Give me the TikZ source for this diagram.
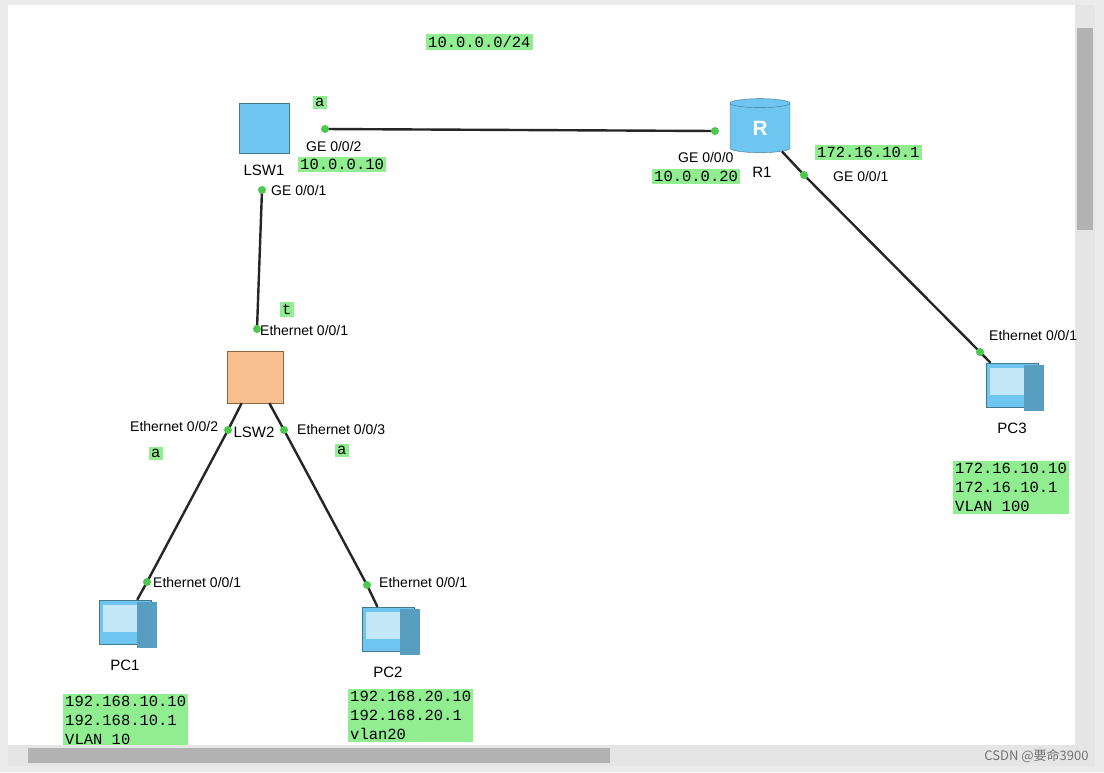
\documentclass[tikz,border=0pt]{standalone}
\usepackage{fontspec}
\setmainfont{Liberation Sans}
\newfontfamily\monof{Liberation Mono}
\newfontfamily\cjkf{Noto Sans CJK SC}
\usetikzlibrary{shapes.geometric}
\definecolor{lblgreen}{HTML}{90EE90}
\definecolor{devblue}{HTML}{6EC6F0}
\definecolor{devorange}{HTML}{F4A460}
\tikzset{
  lbl/.style={fill=lblgreen, font=\monof\fontsize{15.5}{19}\selectfont, inner sep=2pt, align=left, anchor=north west},
  port/.style={font=\fontsize{14}{16}\selectfont, inner sep=1pt},
  dev/.style={font=\fontsize{15}{17}\selectfont, inner sep=1pt},
  pdot/.style={circle, fill=green!70!black!70, inner sep=0pt, minimum size=8pt},
  link/.style={line width=2.4pt, black!85},
  pcbox/.style={draw=devblue!60!black, fill=devblue, minimum width=52pt, minimum height=44pt, inner sep=0pt}
}
\begin{document}
\begin{tikzpicture}[x=1pt, y=-1pt]
  \useasboundingbox (0,0) rectangle (1104,772);
  % window
  \fill[black!8] (0,0) rectangle (1104,772);
  \fill[white] (8,5) rectangle (1075,745);
  \fill[black!10] (1075,5) rectangle (1095,745);
  \fill[black!30] (1077,28) rectangle (1093,230);

  % devices
  \node[draw=devblue!60!black, fill=devblue, minimum width=50pt, minimum height=50pt, inner sep=0pt] (lsw1) at (264,128) {};
  \node[dev] (lsw1t) at (264,170) {LSW1};
  \node[cylinder, shape border rotate=90, draw=devblue!60!black, fill=devblue, minimum width=60pt, minimum height=54pt, aspect=0.6, font=\bfseries\huge, text=white, inner sep=0pt] (r1) at (760,128) {R};
  \node[dev] (r1t) at (762,172) {R1};
  \node[draw=devorange!60!black, fill=devorange!70, minimum width=56pt, minimum height=52pt, inner sep=0pt] (lsw2) at (255,377) {};
  \node[dev] (lsw2t) at (254,432) {LSW2};
  \foreach \n/\x/\y in {pc1/125/622, pc2/388/629, pc3/1012/385} {
    \node[pcbox] (\n) at (\x,\y) {};
    \fill[devblue!40] (\x-22,\y-17) rectangle (\x+12,\y+10);
    \fill[devblue!80!black] (\x+12,\y-20) rectangle (\x+32,\y+26);
  }
  \node[dev] (pc1t) at (125,665) {PC1};
  \node[dev] (pc2t) at (388,672) {PC2};
  \node[dev] (pc3t) at (1012,428) {PC3};

  % ports
  \coordinate (p12) at (325,129);
  \coordinate (p10) at (715,131);
  \coordinate (p11) at (262,190);
  \coordinate (p21) at (257,329);
  \coordinate (pr1) at (804,175);
  \coordinate (pc3p) at (980,352);
  \coordinate (p22) at (228,430);
  \coordinate (p23) at (284,430);
  \coordinate (pc1p) at (147,582);
  \coordinate (pc2p) at (367,585);

  % links
  \draw[link] (p12) -- (p10);
  \draw[link] (p11) -- (p21);
  \draw[link] (pr1) -- (pc3p);
  \draw[link] (p22) -- (pc1p);
  \draw[link] (p23) -- (pc2p);
  \draw[link] (lsw2) -- (p22);
  \draw[link] (lsw2) -- (p23);
  \draw[link] (r1) -- (pr1);
  \draw[link] (pc1) -- (pc1p);
  \draw[link] (pc2) -- (pc2p);
  \draw[link] (pc3) -- (pc3p);
  \foreach \p in {p12,p10,p11,p21,pr1,pc3p,p22,p23,pc1p,pc2p}
    \node[pdot] at (\p) {};

  % port labels
  \node[port, anchor=west] (l12) at (305,146) {GE 0/0/2};
  \node[port, anchor=west] (l10) at (677,157) {GE 0/0/0};
  \node[port, anchor=west] (l11) at (270,190) {GE 0/0/1};
  \node[port, anchor=west] (l21) at (259,330) {Ethernet 0/0/1};
  \node[port, anchor=west] (lr1) at (832,176) {GE 0/0/1};
  \node[port, anchor=west] (l3) at (988,335) {Ethernet 0/0/1};
  \node[port, anchor=west] (l22) at (129,426) {Ethernet 0/0/2};
  \node[port, anchor=west] (l23) at (296,429) {Ethernet 0/0/3};
  \node[port, anchor=west] (lpc1) at (152,582) {Ethernet 0/0/1};
  \node[port, anchor=west] (lpc2) at (378,582) {Ethernet 0/0/1};

  % address labels
  \node[lbl] (net) at (426,34) {10.0.0.0/24};
  \node[lbl] (ma) at (313,96) {a};
  \node[lbl] (ip1) at (298,157) {10.0.0.10};
  \node[lbl] (ip2) at (652,169) {10.0.0.20};
  \node[lbl] (ip3) at (815,145) {172.16.10.1};
  \node[lbl] (mt) at (280,302) {t};
  \node[lbl] (ma2) at (149,447) {a};
  \node[lbl] (ma3) at (335,444) {a};
  \node[lbl] (cfg3) at (953,461) {172.16.10.10\\172.16.10.1\\VLAN 100};
  \node[lbl] (cfg1) at (63,694) {192.168.10.10\\192.168.10.1\\VLAN 10};
  \node[lbl] (cfg2) at (348,689) {192.168.20.10\\192.168.20.1\\vlan20};
  % bottom scrollbar
  \fill[black!10] (8,745) rectangle (1095,766);
  \fill[black!30] (28,748) rectangle (610,763);
  \node[font=\cjkf\fontsize{13}{15}\selectfont, text=black!55, anchor=east] (wm) at (1092,756) {CSDN @要命3900};
\end{tikzpicture}
\end{document}
